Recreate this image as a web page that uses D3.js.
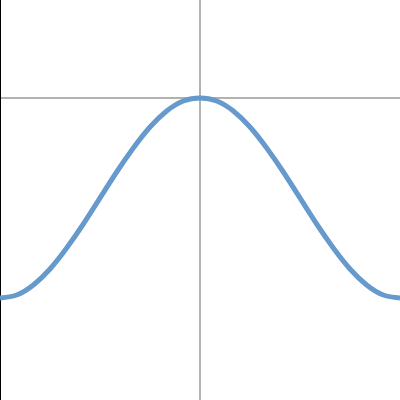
<!DOCTYPE html>
<html>
<head>
<meta charset="utf-8">
<script src="https://cdn.jsdelivr.net/npm/d3@7"></script>
<style>
  html, body { margin: 0; padding: 0; background: #fff; }
  svg { display: block; }
</style>
</head>
<body>
<div id="chart"></div>
<script>
// --- Data (x in radians, one step = pi/12) ---
const xSteps = [-12, -11, -10, -9, -8, -7, -6, -5, -4, -3, -2, -1, 0,
                1, 2, 3, 4, 5, 6, 7, 8, 9, 10, 11, 12];
const yValues = [-1, -0.97, -0.87, -0.71, -0.5, -0.26, 0, 0.26, 0.5, 0.71, 0.87, 0.97, 1,
                 0.97, 0.87, 0.71, 0.5, 0.26, 0, -0.26, -0.5, -0.71, -0.87, -0.97, -1];
const points = xSteps.map((s, i) => [s * Math.PI / 12, yValues[i]]);

// --- Chart setup ---
const width = 400;
const height = 400;

const x = d3.scaleLinear()
    .domain([-Math.PI, Math.PI])
    .range([0, width]);

const y = d3.scaleLinear()
    .domain([-1, 1])
    .range([298, 98]);

const svg = d3.select('#chart').append('svg')
    .attr('width', width)
    .attr('height', height);

// axes through the origin / y = 1
svg.append('line')
    .attr('x1', x(0)).attr('x2', x(0))
    .attr('y1', 0).attr('y2', height)
    .attr('stroke', '#999')
    .attr('stroke-width', 1.5);

svg.append('line')
    .attr('x1', 0).attr('x2', width)
    .attr('y1', y(1)).attr('y2', y(1))
    .attr('stroke', '#999')
    .attr('stroke-width', 1.5);

// left border
svg.append('line')
    .attr('x1', 0.5).attr('x2', 0.5)
    .attr('y1', 0).attr('y2', height)
    .attr('stroke', '#000')
    .attr('stroke-width', 1);

// the curve
const line = d3.line()
    .x(d => x(d[0]))
    .y(d => y(d[1]))
    .curve(d3.curveNatural);

svg.append('path')
    .datum(points)
    .attr('fill', 'none')
    .attr('stroke', '#6699cc')
    .attr('stroke-width', 5)
    .attr('d', line);
</script>
</body>
</html>
